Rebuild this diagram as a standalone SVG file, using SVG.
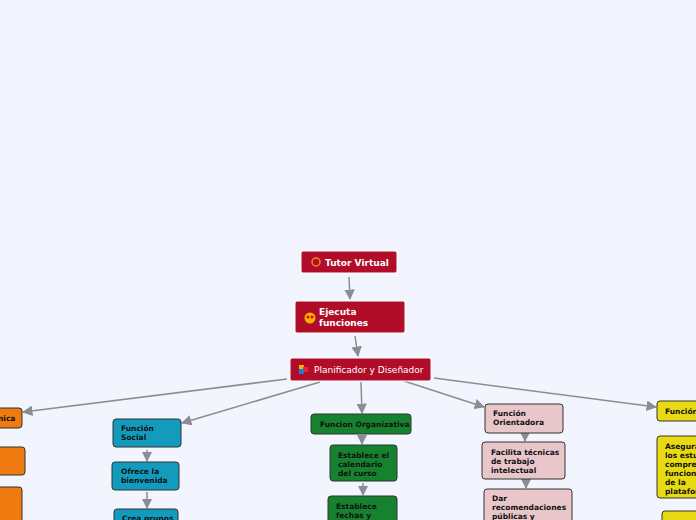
<svg xmlns="http://www.w3.org/2000/svg" width="696" height="520" viewBox="0 0 696 520">
<defs>
<marker id="ar" viewBox="0 0 10 10" refX="9" refY="5" markerWidth="7" markerHeight="7" orient="auto-start-reverse"><path d="M0,0 L10,5 L0,10 z" fill="#8a8d94"/></marker>
<style>
.c{stroke:#8a8d94;stroke-width:1.5;fill:none;marker-end:url(#ar)}
.t{font-family:"DejaVu Sans",sans-serif;font-size:7.5px;font-weight:bold;fill:#111}
.w{font-family:"DejaVu Sans",sans-serif;font-size:9px;font-weight:bold;fill:#fff}
.red{fill:#b10d28;stroke:#fff;stroke-width:1}
.or{fill:#ee7a10;stroke:#333;stroke-width:1}
.bl{fill:#129bbd;stroke:#333;stroke-width:1}
.gr{fill:#16822f;stroke:#333;stroke-width:1}
.pk{fill:#e8c6ca;stroke:#333;stroke-width:1}
.ye{fill:#e8da12;stroke:#333;stroke-width:1}
</style>
</defs>
<rect width="696" height="520" fill="#f2f5fd"/>
<g id="connectors">
<path class="c" d="M349,277 L350,299"/>
<path class="c" d="M355,336 L358,356"/>
<path class="c" d="M287,379 L23,412"/>
<path class="c" d="M320,382 L182,423"/>
<path class="c" d="M361,382 L362,413"/>
<path class="c" d="M404,381 L484,407"/>
<path class="c" d="M434,378 L656,407"/>
<path class="c" d="M147,450 L147,461"/>
<path class="c" d="M147,492 L147,508"/>
<path class="c" d="M362,436 L362,444"/>
<path class="c" d="M363,483 L363,495"/>
<path class="c" d="M525,436 L525,441"/>
<path class="c" d="M526,481 L526,488"/>
</g>
<g id="tutor"><rect class="red" x="301" y="251" width="96" height="22" rx="2"/><circle cx="316" cy="262" r="4" fill="none" stroke="#f08a20" stroke-width="1.5"/><text class="w" x="325" y="265.5">Tutor Virtual</text></g>
<g id="ejecuta"><rect class="red" x="295" y="301" width="110" height="32" rx="2"/><circle cx="310" cy="318" r="5.5" fill="#f5b400"/><circle cx="308" cy="317" r="1.5" fill="#d00"/><circle cx="312" cy="317" r="1.5" fill="#d00"/><text class="w" x="319" y="315">Ejecuta</text><text class="w" x="319" y="326">funciones</text></g>
<g id="planificador"><rect class="red" x="290" y="358" width="141" height="23" rx="2"/><rect x="299" y="365" width="5" height="5" fill="#f5b400"/><rect x="303" y="367" width="5" height="5" fill="#e23"/><rect x="299" y="369" width="5" height="5" fill="#1a7fd0"/><text x="314" y="373" font-family="DejaVu Sans,sans-serif" font-size="9" fill="#fff">Planificador y Diseñador</text></g>
<g id="tecnica"><rect class="or" x="-6" y="408" width="28" height="20" rx="3"/><text class="t" x="-2" y="421">nica</text></g>
<g id="or2"><rect class="or" x="-6" y="447" width="31" height="28" rx="3"/></g>
<g id="or3"><rect class="or" x="-6" y="487" width="28" height="40" rx="3"/></g>
<g id="social"><rect class="bl" x="113" y="419" width="68" height="28" rx="3"/><text class="t" x="121" y="431">Función</text><text class="t" x="121" y="440">Social</text></g>
<g id="bienvenida"><rect class="bl" x="112" y="462" width="67" height="28" rx="3"/><text class="t" x="121" y="474">Ofrece la</text><text class="t" x="121" y="483">bienvenida</text></g>
<g id="grupos"><rect class="bl" x="114" y="509" width="64" height="20" rx="3"/><text class="t" x="122" y="521">Crea grupos</text></g>
<g id="organizativa"><rect class="gr" x="311" y="414" width="100" height="20" rx="3"/><text class="t" x="320" y="427">Funcion Organizativa</text></g>
<g id="calendario"><rect class="gr" x="330" y="445" width="67" height="36" rx="3"/><text class="t" x="338" y="458">Establece el</text><text class="t" x="338" y="467">calendario</text><text class="t" x="338" y="476">del curso</text></g>
<g id="fechas"><rect class="gr" x="328" y="496" width="69" height="30" rx="3"/><text class="t" x="336" y="509">Establece</text><text class="t" x="336" y="518">fechas y</text></g>
<g id="orientadora"><rect class="pk" x="485" y="404" width="78" height="29" rx="3"/><text class="t" x="493" y="416">Función</text><text class="t" x="493" y="425">Orientadora</text></g>
<g id="facilita"><rect class="pk" x="482" y="442" width="83" height="37" rx="3"/><text class="t" x="491" y="455">Facilita técnicas</text><text class="t" x="491" y="464">de trabajo</text><text class="t" x="491" y="473">intelectual</text></g>
<g id="recomendaciones"><rect class="pk" x="484" y="489" width="88" height="40" rx="3"/><text class="t" x="492" y="501">Dar</text><text class="t" x="492" y="510">recomendaciones</text><text class="t" x="492" y="519">públicas y</text></g>
<g id="funcion5"><rect class="ye" x="657" y="401" width="45" height="20" rx="3"/><text class="t" x="665" y="414">Función</text></g>
<g id="asegura"><rect class="ye" x="657" y="436" width="45" height="62" rx="3"/><text class="t" x="665" y="449">Asegura</text><text class="t" x="665" y="458">los estu</text><text class="t" x="665" y="467">compren</text><text class="t" x="665" y="476">funciona</text><text class="t" x="665" y="485">de la</text><text class="t" x="665" y="494">platafor</text></g>
<g id="ye3"><rect class="ye" x="662" y="511" width="40" height="20" rx="3"/></g>
</svg>
